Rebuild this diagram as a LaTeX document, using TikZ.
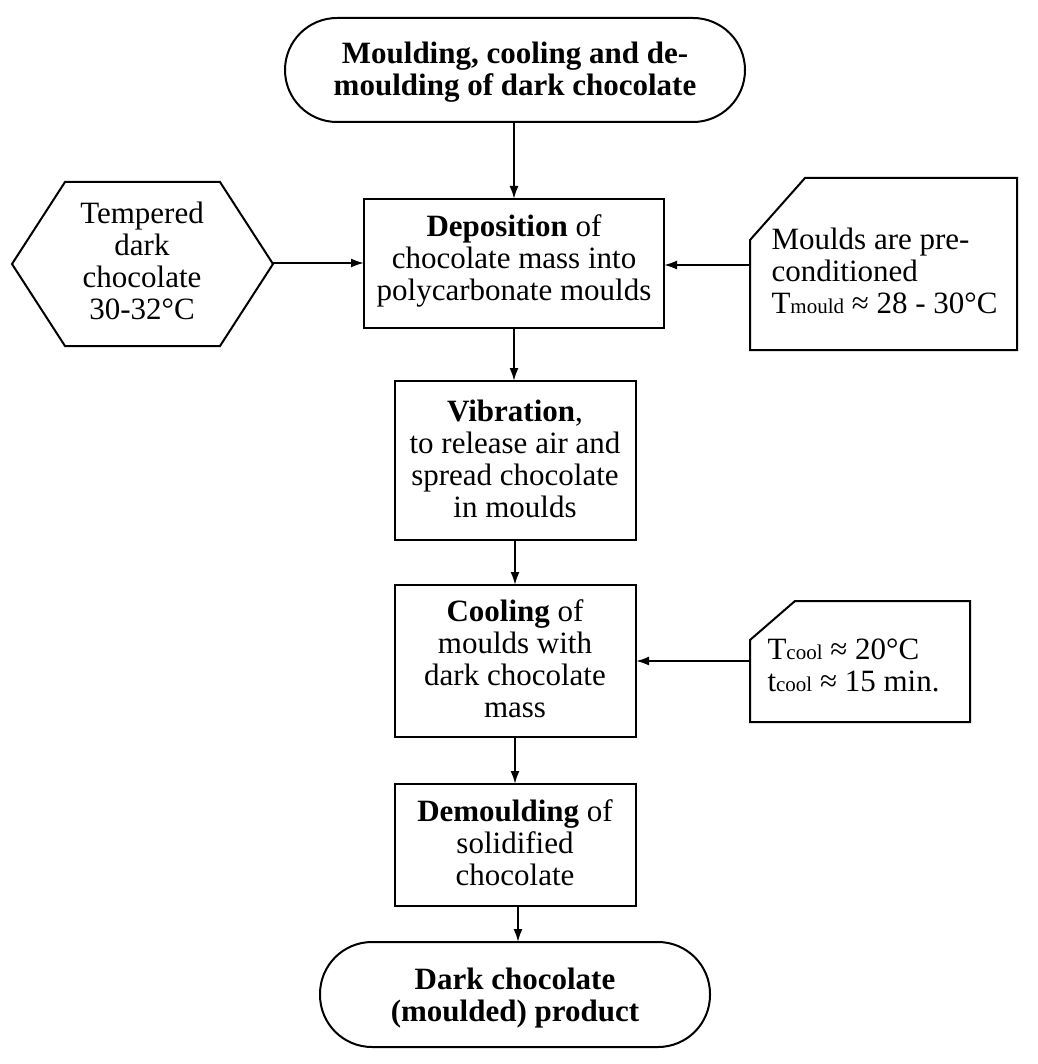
\documentclass[tikz,border=0pt]{standalone}
\usetikzlibrary{arrows.meta}
\usepackage{fontspec}
\setmainfont{Liberation Serif}
\begin{document}
\begin{tikzpicture}[x=1pt,y=-1pt,
  every node/.style={font=\fontsize{31}{32}\selectfont, align=center},
  ln/.style={line width=2pt},
  arr/.style={ln,-{Latex[length=13pt,width=9pt]}}]
\useasboundingbox (0,0) rectangle (1037,1064);
% terminals
\draw[ln,rounded corners=52pt] (285,18) rectangle (745,122);
\node (top) at (515,72) {\textbf{Moulding, cooling and de-}\\\textbf{moulding of dark chocolate}};
\coordinate (topb) at (514,122);
\draw[ln,rounded corners=52pt] (320,942) rectangle (710,1047);
\node (bot) at (515,998) {\textbf{Dark chocolate}\\\textbf{(moulded) product}};
\coordinate (bott) at (518,942);
% hexagon
\draw[ln] (12,264) -- (65,182) -- (220,182) -- (273,264) -- (220,346) -- (65,346) -- cycle;
\node (hex) at (142,261) {Tempered\\dark\\chocolate\\30-32°C};
\coordinate (hexr) at (273,263);
% boxes
\draw[ln] (364,199) rectangle (664,328);
\node (dep) at (514,261) {\textbf{Deposition} of\\chocolate mass into\\polycarbonate moulds};
\draw[ln] (395,381) rectangle (636,540);
\node (vib) at (515,459) {\textbf{Vibration},\\to release air and\\spread chocolate\\in moulds};
\draw[ln] (395,585) rectangle (636,737);
\node (cool) at (515,659) {\textbf{Cooling} of\\moulds with\\dark chocolate\\mass};
\draw[ln] (395,784) rectangle (636,906);
\node (dem) at (515,843) {\textbf{Demoulding} of\\solidified\\chocolate};
% cards
\draw[ln] (750,240) -- (805,178) -- (1017,178) -- (1017,350) -- (750,350) -- cycle;
\node[align=left,anchor=west] (c1) at (768,271) {Moulds are pre-\\conditioned\\T{\fontsize{21}{22}\selectfont mould} ≈ 28 - 30°C};
\coordinate (c1l) at (750,265);
\draw[ln] (750,640) -- (795,601) -- (970,601) -- (970,722) -- (750,722) -- cycle;
\node[align=left,anchor=west] (c2) at (764,665) {T{\fontsize{21}{22}\selectfont cool} ≈ 20°C\\t{\fontsize{21}{22}\selectfont cool} ≈ 15 min.};
\coordinate (c2l) at (750,661);
% arrows
\draw[arr] (topb) -- (514,199);
\draw[arr] (hexr) -- (364,263);
\draw[arr] (c1l) -- (664,265);
\draw[arr] (514,328) -- (514,381);
\draw[arr] (515,540) -- (515,585);
\draw[arr] (c2l) -- (636,661);
\draw[arr] (515,737) -- (515,784);
\draw[arr] (518,906) -- (bott);
\end{tikzpicture}
\end{document}
